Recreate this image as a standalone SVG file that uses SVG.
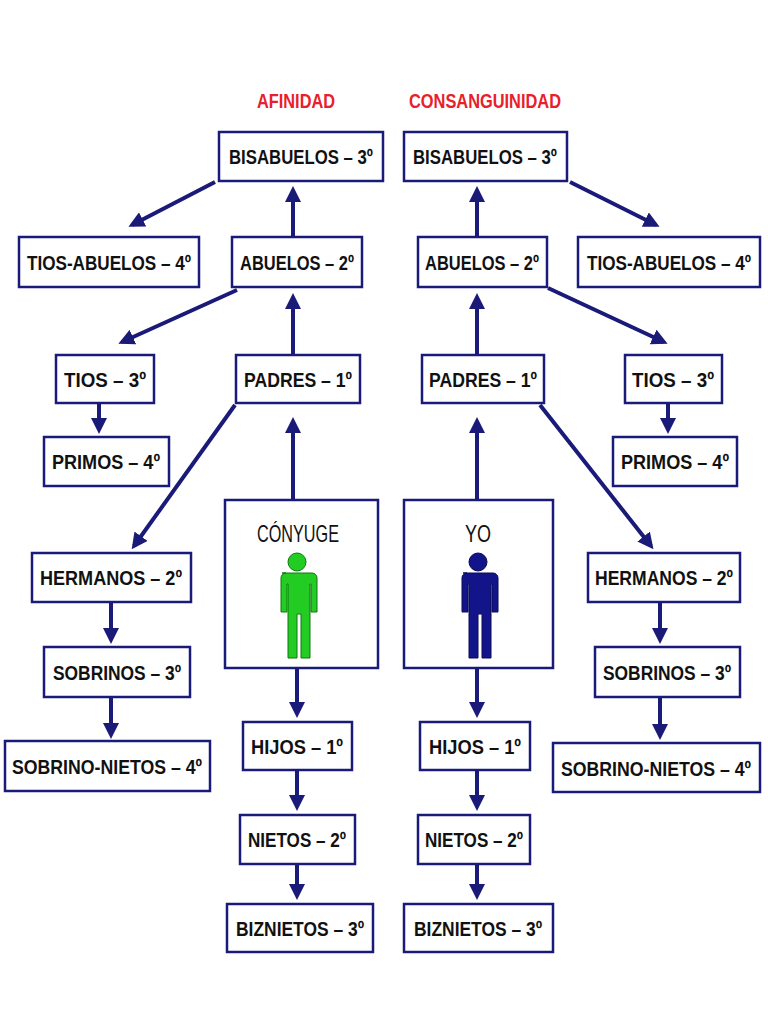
<svg xmlns="http://www.w3.org/2000/svg" width="768" height="1024" viewBox="0 0 768 1024">
<style>
.b{fill:#fff;stroke:#1a1a78;stroke-width:2.5}
.t{font-family:"Liberation Sans",Arial,sans-serif;font-weight:bold;font-size:20px;fill:#111;text-anchor:middle}
.h{font-family:"Liberation Sans",Arial,sans-serif;font-weight:bold;font-size:20px;fill:#e8202a;text-anchor:middle}
.l{font-family:"Liberation Sans",Arial,sans-serif;font-size:24px;fill:#111;text-anchor:middle}
.c line{stroke:#1a1a78;stroke-width:4;marker-end:url(#a)}
</style>
<defs><marker id="a" markerWidth="4" markerHeight="4" refX="3" refY="2" orient="auto"><path d="M0,0L4,2L0,4z" fill="#1a1a78"/></marker></defs>
<rect width="768" height="1024" fill="#fff"/>
<text class="h" x="296" y="108" textLength="78" lengthAdjust="spacingAndGlyphs">AFINIDAD</text>
<text class="h" x="485" y="108" textLength="152" lengthAdjust="spacingAndGlyphs">CONSANGUINIDAD</text>
<g class="c">
<line x1="215" y1="182" x2="132" y2="225"/>
<line x1="293" y1="237" x2="293" y2="190"/>
<line x1="237" y1="290" x2="122" y2="342"/>
<line x1="293" y1="354" x2="293" y2="297"/>
<line x1="99" y1="403" x2="99" y2="430"/>
<line x1="235" y1="405" x2="134" y2="546"/>
<line x1="293" y1="500" x2="293" y2="421"/>
<line x1="111" y1="602" x2="111" y2="640"/>
<line x1="111" y1="697" x2="111" y2="735"/>
<line x1="297" y1="668" x2="297" y2="714"/>
<line x1="297" y1="770" x2="297" y2="807"/>
<line x1="297" y1="864" x2="297" y2="896"/>
<line x1="477" y1="237" x2="477" y2="190"/>
<line x1="570" y1="182" x2="656" y2="225"/>
<line x1="548" y1="288" x2="664" y2="342"/>
<line x1="477" y1="354" x2="477" y2="297"/>
<line x1="668" y1="403" x2="668" y2="430"/>
<line x1="477" y1="500" x2="477" y2="421"/>
<line x1="540" y1="405" x2="651" y2="546"/>
<line x1="660" y1="602" x2="660" y2="640"/>
<line x1="660" y1="697" x2="660" y2="736"/>
<line x1="477" y1="668" x2="477" y2="714"/>
<line x1="477" y1="770" x2="477" y2="807"/>
<line x1="477" y1="864" x2="477" y2="896"/>
</g>
<g id="l-bis"><rect class="b" x="219" y="132" width="164" height="49"/><text class="t" x="301" y="164" textLength="144" lengthAdjust="spacingAndGlyphs">BISABUELOS – 3º</text></g>
<g id="l-tab"><rect class="b" x="19" y="237" width="180" height="50"/><text class="t" x="109" y="270" textLength="164" lengthAdjust="spacingAndGlyphs">TIOS-ABUELOS – 4º</text></g>
<g id="l-ab"><rect class="b" x="232" y="237" width="130" height="50"/><text class="t" x="297" y="270" textLength="114" lengthAdjust="spacingAndGlyphs">ABUELOS – 2º</text></g>
<g id="l-tios"><rect class="b" x="56" y="355" width="98" height="48"/><text class="t" x="105" y="387" textLength="82" lengthAdjust="spacingAndGlyphs">TIOS – 3º</text></g>
<g id="l-pad"><rect class="b" x="236" y="355" width="124" height="48"/><text class="t" x="298" y="387" textLength="108" lengthAdjust="spacingAndGlyphs">PADRES – 1º</text></g>
<g id="l-prim"><rect class="b" x="44" y="437" width="125" height="49"/><text class="t" x="106" y="469" textLength="108" lengthAdjust="spacingAndGlyphs">PRIMOS – 4º</text></g>
<g id="l-her"><rect class="b" x="32" y="553" width="159" height="49"/><text class="t" x="111" y="585" textLength="142" lengthAdjust="spacingAndGlyphs">HERMANOS – 2º</text></g>
<g id="l-sob"><rect class="b" x="44" y="647" width="146" height="50"/><text class="t" x="117" y="680" textLength="128" lengthAdjust="spacingAndGlyphs">SOBRINOS – 3º</text></g>
<g id="l-sn"><rect class="b" x="5" y="741" width="205" height="50"/><text class="t" x="107" y="774" textLength="190" lengthAdjust="spacingAndGlyphs">SOBRINO-NIETOS – 4º</text></g>
<g id="l-cony"><rect class="b" x="225" y="500" width="153" height="168"/><text class="l" x="298" y="542" textLength="82" lengthAdjust="spacingAndGlyphs">CÓNYUGE</text>
<g fill="#22cc22" stroke="#117711" stroke-width="1"><circle cx="297" cy="562" r="9"/><path d="M282,573h30a5,5 0 0 1 5,5v34h-6v-28h-1v74h-9v-44h-4v44h-9v-74h-1v28h-6v-34a5,5 0 0 1 5-5z"/></g></g>
<g id="l-hij"><rect class="b" x="243" y="722" width="109" height="48"/><text class="t" x="297" y="754" textLength="92" lengthAdjust="spacingAndGlyphs">HIJOS – 1º</text></g>
<g id="l-nie"><rect class="b" x="240" y="815" width="115" height="49"/><text class="t" x="297" y="847" textLength="98" lengthAdjust="spacingAndGlyphs">NIETOS – 2º</text></g>
<g id="l-biz"><rect class="b" x="227" y="904" width="146" height="48"/><text class="t" x="300" y="936" textLength="128" lengthAdjust="spacingAndGlyphs">BIZNIETOS – 3º</text></g>
<g id="r-bis"><rect class="b" x="404" y="132" width="163" height="49"/><text class="t" x="485" y="164" textLength="144" lengthAdjust="spacingAndGlyphs">BISABUELOS – 3º</text></g>
<g id="r-ab"><rect class="b" x="418" y="237" width="129" height="50"/><text class="t" x="482" y="270" textLength="114" lengthAdjust="spacingAndGlyphs">ABUELOS – 2º</text></g>
<g id="r-tab"><rect class="b" x="578" y="237" width="182" height="50"/><text class="t" x="669" y="270" textLength="164" lengthAdjust="spacingAndGlyphs">TIOS-ABUELOS – 4º</text></g>
<g id="r-pad"><rect class="b" x="422" y="355" width="122" height="48"/><text class="t" x="483" y="387" textLength="108" lengthAdjust="spacingAndGlyphs">PADRES – 1º</text></g>
<g id="r-tios"><rect class="b" x="625" y="355" width="97" height="48"/><text class="t" x="673" y="387" textLength="82" lengthAdjust="spacingAndGlyphs">TIOS – 3º</text></g>
<g id="r-prim"><rect class="b" x="613" y="437" width="124" height="49"/><text class="t" x="675" y="469" textLength="108" lengthAdjust="spacingAndGlyphs">PRIMOS – 4º</text></g>
<g id="r-yo"><rect class="b" x="404" y="500" width="149" height="168"/><text class="l" x="478" y="542" textLength="26" lengthAdjust="spacingAndGlyphs">YO</text>
<g fill="#14148a" stroke="#0a0a55" stroke-width="1"><circle cx="478" cy="562" r="9"/><path d="M463,573h30a5,5 0 0 1 5,5v34h-6v-28h-1v74h-9v-44h-4v44h-9v-74h-1v28h-6v-34a5,5 0 0 1 5-5z"/></g></g>
<g id="r-her"><rect class="b" x="588" y="553" width="152" height="49"/><text class="t" x="664" y="585" textLength="138" lengthAdjust="spacingAndGlyphs">HERMANOS – 2º</text></g>
<g id="r-sob"><rect class="b" x="595" y="647" width="145" height="50"/><text class="t" x="667" y="680" textLength="128" lengthAdjust="spacingAndGlyphs">SOBRINOS – 3º</text></g>
<g id="r-sn"><rect class="b" x="553" y="743" width="207" height="49"/><text class="t" x="656" y="776" textLength="190" lengthAdjust="spacingAndGlyphs">SOBRINO-NIETOS – 4º</text></g>
<g id="r-hij"><rect class="b" x="420" y="722" width="110" height="48"/><text class="t" x="475" y="754" textLength="92" lengthAdjust="spacingAndGlyphs">HIJOS – 1º</text></g>
<g id="r-nie"><rect class="b" x="418" y="815" width="112" height="49"/><text class="t" x="474" y="847" textLength="98" lengthAdjust="spacingAndGlyphs">NIETOS – 2º</text></g>
<g id="r-biz"><rect class="b" x="404" y="904" width="149" height="48"/><text class="t" x="478" y="936" textLength="128" lengthAdjust="spacingAndGlyphs">BIZNIETOS – 3º</text></g>
</svg>
